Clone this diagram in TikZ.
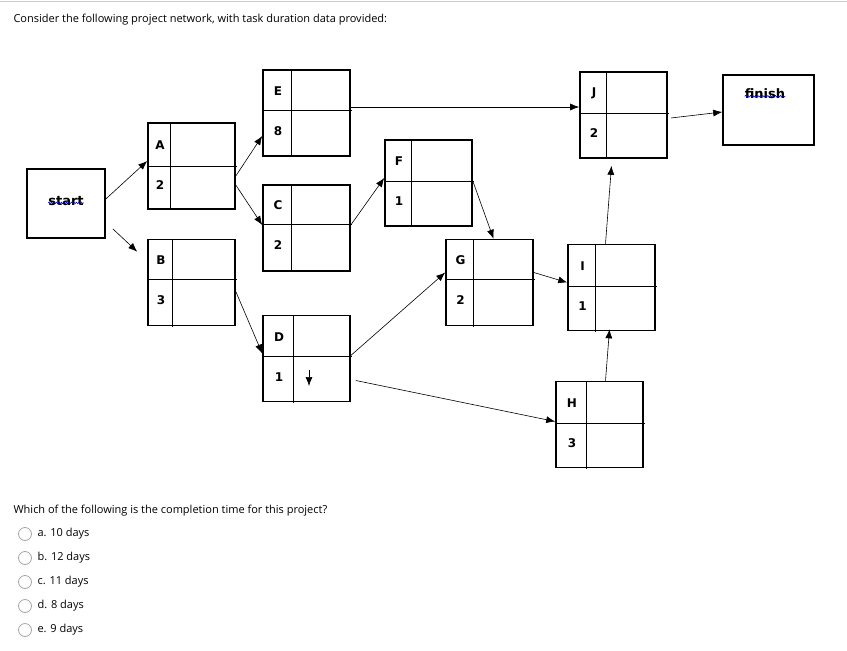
\documentclass[tikz,border=0pt]{standalone}
\usepackage{fontspec}
\setmainfont{DejaVu Sans}
\newfontfamily\qfont{Open Sans}
\usetikzlibrary{arrows.meta,decorations.pathmorphing}
\tikzset{
	task/.style={draw=black, line width=1.6pt, minimum width=87pt, minimum height=86pt, inner sep=0pt},
	tag/.style={font=\bfseries\fontsize{12}{14}\selectfont, inner sep=0pt},
	link/.style={-{Latex[length=9pt,width=7pt]}, line width=0.6pt},
	spell/.style={draw=blue!70!black, line width=0.5pt, decorate, decoration={snake, amplitude=0.8pt, segment length=2.5pt}}
}
\begin{document}
\begin{tikzpicture}[x=1pt, y=-1pt]
			\useasboundingbox (0,0) rectangle (847,651);
			\draw[gray!40, line width=1pt] (0,1) -- (847,1);
			\node[anchor=west, font=\qfont\fontsize{11}{13}\selectfont] at (10,20) {Consider the following project network, with task duration data provided:};
			%Task boxes: name/centre x/centre y/label/duration/divider x/divider y
			\foreach \n/\x/\y/\l/\d/\dx/\dy in {
				A/191.5/166/A/2/170/166,
				E/306.5/113/E/8/291/110,
				C/306.5/228/C/2/291/224,
				B/191.5/282.5/B/3/172/279,
				D/306.5/358.5/D/1/293/356,
				F/428.5/183/F/1/411/181,
				G/489.5/282.5/G/2/473/279,
				I/611.5/287.5/I/1/595/286,
				J/623.5/115/J/2/606/113,
				H/599.5/424.5/H/3/586/423}
			{
				\node[task] (\n) at (\x,\y) {};
				\draw[line width=0.8pt] (\dx,\y-43) -- (\dx,\y+44);
				\draw[line width=0.8pt] (\x-43.5,\dy) -- (\x+45,\dy);
				\node[tag] (\n-l) at ({(\x-43.5+\dx)/2+1},{(\y-43+\dy)/2+1}) {\l};
				\node[tag] (\n-d) at ({(\x-43.5+\dx)/2+1},{(\y+43+\dy)/2-2}) {\d};
			}
			\node[draw=black, line width=1.6pt, minimum width=78pt, minimum height=69pt] (start) at (66,203.5) {};
			\node[tag, font=\bfseries\fontsize{13}{15}\selectfont] (start-t) at (66,201) {start};
			\draw[spell] ([yshift=3pt]start-t.south west) -- ([yshift=3pt]start-t.south east);
			\node[draw=black, line width=1.6pt, minimum width=91pt, minimum height=70pt] (finish) at (768.5,110) {};
			\node[tag, font=\bfseries\fontsize{13}{15}\selectfont] (finish-t) at (765,94) {finish};
			\draw[spell] ([yshift=3pt]finish-t.south west) -- ([yshift=3pt]finish-t.south east);
			%Connectors
			\draw[link] ([yshift=4.5pt]start.east) -- ([yshift=5pt]A.west);
			\draw[link] ([xshift=7pt,yshift=10pt]start.south east) -- ([xshift=-10pt,yshift=-13pt]B.north west);
			\draw[link] ([yshift=-10pt]A.east) -- ([yshift=-23pt]E.west);
			\draw[link] ([yshift=-19pt]A.east) -- ([yshift=3pt]C.west);
			\draw[link] ([yshift=-9pt]B.east) -- ([yshift=5pt]D.west);
			\draw[link] ([yshift=3pt]C.east) -- ([yshift=5pt]F.west);
			\draw[link] ([yshift=2pt]F.east) -- ([xshift=4pt]G.north);
			\draw[link] ([yshift=6pt]E.east) -- ([yshift=8pt]J.west);
			\draw[link] ([yshift=3pt]D.east) -- ([yshift=10pt]G.west);
			\draw[link] ([xshift=5pt,yshift=-22pt]D.east) -- ([yshift=3pt]H.west);
			\draw[link] ([yshift=10pt]G.east) -- ([yshift=5pt]I.west);
			\draw[link] ([xshift=6pt]H.north) -- ([xshift=-2pt,yshift=2pt]I.south);
			\draw[link] ([xshift=-6pt]I.north) -- ([xshift=-12pt,yshift=-7pt]J.south);
			\draw[link] ([xshift=3pt,yshift=-3pt]J.east) -- ([yshift=-2pt]finish.west);
			\coordinate (D-top) at (309,370);
			\coordinate (D-bot) at (309,386);
			\draw[link] (D-top) -- (D-bot);
			%Question
			\node[anchor=west, font=\qfont\fontsize{11}{13}\selectfont] at (10,511) {Which of the following is the completion time for this project?};
			\foreach \t [count=\i] in {a. 10 days, b. 12 days, c. 11 days, d. 8 days, e. 9 days}
			{
				\draw[gray!70, line width=0.8pt] (25,510+24*\i) circle (6.5);
				\node[anchor=west, font=\qfont\fontsize{11}{13}\selectfont] at (34,510+24*\i) {\t};
			}
\end{tikzpicture}
\end{document}
